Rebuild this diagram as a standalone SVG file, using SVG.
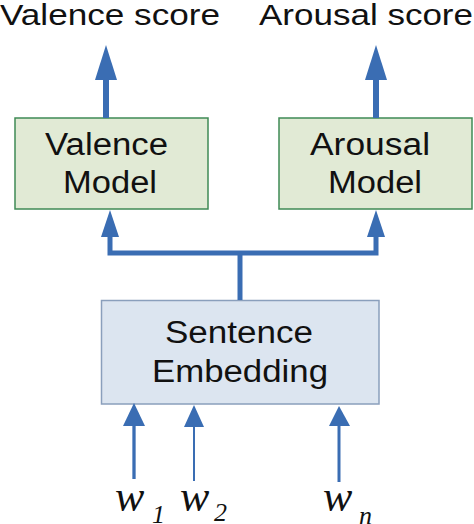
<svg xmlns="http://www.w3.org/2000/svg" width="474" height="524" viewBox="0 0 474 524">
<style>
.lbl{font-family:"Liberation Sans",Arial,sans-serif;fill:#111;}
.model{fill:#e1ead5;stroke:#3f8a55;stroke-width:1.5;}
.emb{fill:#dce5f0;stroke:#8a9fbc;stroke-width:1.5;}
.conn{stroke:#3a6db3;fill:none;}
.head{fill:#3a6db3;}
.w{font-family:"Liberation Serif","Times New Roman",serif;font-style:italic;fill:#111;}
</style>
<rect width="474" height="524" fill="#ffffff"/>
<g id="valence-score"><text class="lbl" x="0" y="25" font-size="30" textLength="220" lengthAdjust="spacingAndGlyphs">Valence score</text></g>
<g id="arousal-score"><text class="lbl" x="259" y="25" font-size="30" textLength="214" lengthAdjust="spacingAndGlyphs">Arousal score</text></g>
<g id="valence-model">
<rect class="model" x="15" y="118" width="193" height="91"/>
<text class="lbl" x="45" y="155" font-size="31" textLength="123" lengthAdjust="spacingAndGlyphs">Valence</text>
<text class="lbl" x="63" y="193" font-size="31" textLength="94" lengthAdjust="spacingAndGlyphs">Model</text>
</g>
<g id="arousal-model">
<rect class="model" x="279" y="118" width="193" height="91"/>
<text class="lbl" x="310" y="155" font-size="31" textLength="120" lengthAdjust="spacingAndGlyphs">Arousal</text>
<text class="lbl" x="328" y="193" font-size="31" textLength="94" lengthAdjust="spacingAndGlyphs">Model</text>
</g>
<g id="sentence-embedding">
<rect class="emb" x="101.5" y="300.5" width="277.5" height="103.5"/>
<text class="lbl" x="165" y="343" font-size="31" textLength="148" lengthAdjust="spacingAndGlyphs">Sentence</text>
<text class="lbl" x="152" y="382" font-size="31" textLength="176" lengthAdjust="spacingAndGlyphs">Embedding</text>
</g>
<g id="w1"><text class="w" x="115" y="511" font-size="44">w</text><text class="w" x="152" y="523" font-size="26">1</text></g>
<g id="w2"><text class="w" x="180" y="511" font-size="44">w</text><text class="w" x="214" y="521" font-size="26">2</text></g>
<g id="wn"><text class="w" x="323" y="511" font-size="44">w</text><text class="w" x="359" y="524" font-size="26">n</text></g>
<g id="connectors">
<line class="conn" x1="106" y1="118" x2="106" y2="78" stroke-width="6"/>
<polygon class="head" points="106,45 95,80 117,80"/>
<line class="conn" x1="376" y1="118" x2="376" y2="78" stroke-width="6"/>
<polygon class="head" points="376,45 365,80 387,80"/>
<polyline class="conn" points="240,300 240,253" stroke-width="5"/>
<polyline class="conn" points="110,236 110,253 376,253 376,236" stroke-width="5"/>
<polygon class="head" points="110,210 101,237 119,237"/>
<polygon class="head" points="376,210 367,237 385,237"/>
<line class="conn" x1="134" y1="479" x2="134" y2="423" stroke-width="3.3"/>
<polygon class="head" points="134,403 123,426 145,426"/>
<line class="conn" x1="194" y1="481" x2="194" y2="425" stroke-width="2"/>
<polygon class="head" points="194,405 184,427 204,427"/>
<line class="conn" x1="339" y1="482" x2="339" y2="423" stroke-width="3"/>
<polygon class="head" points="339,406 329,426 350,426"/>
</g>
</svg>
